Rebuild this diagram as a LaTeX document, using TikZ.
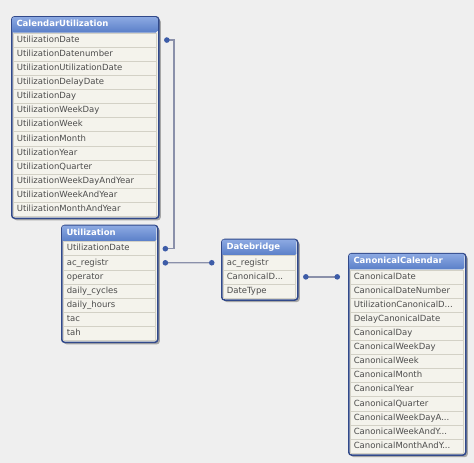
\documentclass[tikz,border=0pt]{standalone}
\usepackage{fontspec}
\setmainfont{DejaVu Sans}
\usetikzlibrary{arrows.meta,shadows}
\definecolor{bgcol}{HTML}{EFEFEF}
\definecolor{rowbg}{HTML}{F4F3EC}
\definecolor{rowline}{HTML}{D3D1C6}
\definecolor{hdrtop}{HTML}{8CA9E2}
\definecolor{hdrbot}{HTML}{5A7FC8}
\definecolor{boxline}{HTML}{31498A}
\definecolor{linkcol}{HTML}{8A90AA}
\definecolor{dotcol}{HTML}{3D5CA8}
\newcommand{\cutdots}{...}

\begin{document}
\begin{tikzpicture}[
        x=1pt, y=-1pt,
        tbl/.style={draw=boxline, line width=1.5pt, fill=rowbg, rounded corners=3pt, anchor=north west, inner sep=0pt,
            drop shadow={shadow xshift=2pt, shadow yshift=-2pt, opacity=.3, fill=black}},
        hdr/.style={anchor=north west, top color=hdrtop, bottom color=hdrbot, rounded corners=1.5pt,
            minimum height=15.5pt, text width=#1, inner xsep=4.5pt, inner ysep=0pt, align=left,
            text height=6.5pt, text depth=2pt, font=\fontsize{8.5}{10}\selectfont\bfseries, text=white},
        fld/.style={anchor=north west, draw=rowline, fill=rowbg, line width=.6pt, minimum height=14.1pt,
            text width=#1, inner xsep=3.5pt, inner ysep=0pt, align=left,
            text height=6.5pt, text depth=2pt, font=\fontsize{8.5}{10}\selectfont, text=black!70},
        link/.style={draw=linkcol, line width=1.3pt, {Circle[length=5.5pt,color=dotcol]}-{Circle[length=5.5pt,color=dotcol]}},
    ]
    \fill[bgcol] (0,0) rectangle (474,463);
    \useasboundingbox (0,0) rectangle (474,463);

    % CalendarUtilization
    \node[tbl, minimum width=147pt, minimum height=201.6pt](cu) at (11,16){};
    \node[hdr=136.4pt](cuh) at ([xshift=.8pt,yshift=-.8pt]cu.north west){CalendarUtilization};
    \foreach \f [count=\i] in {UtilizationDate, UtilizationDatenumber, UtilizationUtilizationDate,
        UtilizationDelayDate, UtilizationDay, UtilizationWeekDay, UtilizationWeek, UtilizationMonth,
        UtilizationYear, UtilizationQuarter, UtilizationWeekDayAndYear, UtilizationWeekAndYear,
        UtilizationMonthAndYear}
        \node[fld=136pt](cu\i) at ([xshift=1.2pt,yshift={-14.1*(\i-1)}]cuh.south west){\f};

    % Utilization
    \node[tbl, minimum width=96pt, minimum height=117pt](u) at (61,224.65){};
    \node[hdr=85.4pt](uh) at ([xshift=.8pt,yshift=-.8pt]u.north west){Utilization};
    \foreach \f [count=\i] in {UtilizationDate, ac\_registr, operator, daily\_cycles, daily\_hours, tac, tah}
        \node[fld=85pt](u\i) at ([xshift=1.2pt,yshift={-14.1*(\i-1)}]uh.south west){\f};

    % Datebridge
    \node[tbl, minimum width=76pt, minimum height=60.6pt](db) at (221,238.7){};
    \node[hdr=65.4pt](dbh) at ([xshift=.8pt,yshift=-.8pt]db.north west){Datebridge};
    \foreach \f [count=\i] in {ac\_registr, CanonicalD\cutdots, DateType}
        \node[fld=65pt](db\i) at ([xshift=1.2pt,yshift={-14.1*(\i-1)}]dbh.south west){\f};

    % CanonicalCalendar
    \node[tbl, minimum width=117pt, minimum height=201.6pt](cc) at (348,252.8){};
    \node[hdr=106.4pt](cch) at ([xshift=.8pt,yshift=-.8pt]cc.north west){CanonicalCalendar};
    \foreach \f [count=\i] in {CanonicalDate, CanonicalDateNumber, UtilizationCanonicalD\cutdots,
        DelayCanonicalDate, CanonicalDay, CanonicalWeekDay, CanonicalWeek, CanonicalMonth,
        CanonicalYear, CanonicalQuarter, CanonicalWeekDayA\cutdots, CanonicalWeekAndY\cutdots,
        CanonicalMonthAndY\cutdots}
        \node[fld=106pt](cc\i) at ([xshift=1.2pt,yshift={-14.1*(\i-1)}]cch.south west){\f};

    % links
    \draw[link] ([xshift=7.5pt]cu1.east) -- ++(10,0) |- ([xshift=7pt]u1.east);
    \draw[link] ([xshift=7pt]u2.east) -- ([xshift=-8.5pt]db1.west);
    \draw[link] ([xshift=7.5pt]db2.east) -- ([xshift=-10pt]cc1.west);
\end{tikzpicture}
\end{document}
